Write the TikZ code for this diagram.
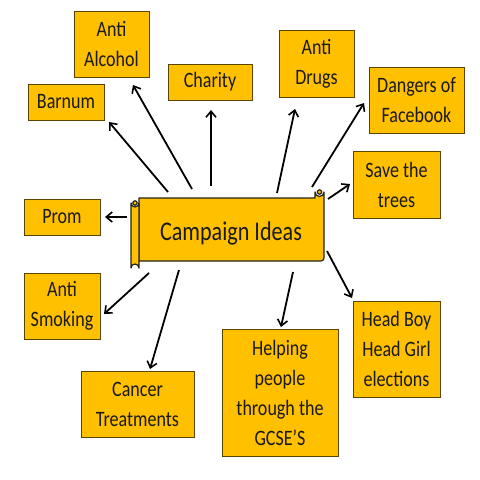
\documentclass[tikz,border=0pt]{standalone}
\usepackage{fontspec}
\setmainfont{Carlito}[FakeStretch=0.82]
\usetikzlibrary{arrows.meta}
\definecolor{gold}{HTML}{FFC000}
\definecolor{edge}{HTML}{5A4500}
\definecolor{ink}{HTML}{1A1A1A}
\begin{document}
\begin{tikzpicture}[x=1pt,y=-1pt,
  idea/.style={draw=edge,line width=1pt,fill=gold,text=ink,align=center,inner sep=0pt,
    font=\fontsize{22}{30}\selectfont},
  link/.style={line width=1.8pt,-{Straight Barb[length=6pt,width=10pt,line width=1.6pt]}},
  scrollline/.style={draw=ink!80!edge,line width=1.2pt,fill=gold,line join=round}]
\useasboundingbox (0,0) rectangle (480,480);
% central scroll
\path[scrollline] (315,198) -- (315,192) arc[start angle=180,end angle=0,radius=4.5] -- (324,258)
  arc[start angle=0,end angle=90,radius=3] -- (139,261) -- (139,198) -- cycle;
\path[scrollline] (319.5,192) circle[radius=2.2];
\path[scrollline] (131,203) arc[start angle=180,end angle=0,radius=4] -- (139,268)
  arc[start angle=0,end angle=-180,radius=4] -- cycle;
\path[scrollline] (135,203) circle[radius=2.2];
\node[text=ink,font=\fontsize{27}{30}\selectfont] (center) at (231,233) {Campaign Ideas};
% idea boxes
\node[idea,minimum width=75pt,minimum height=66pt] (alcohol) at (111.5,44) {Anti\\Alcohol};
\node[idea,minimum width=76pt,minimum height=36pt] (barnum) at (66,102) {Barnum};
\node[idea,minimum width=84pt,minimum height=36pt] (charity) at (210,82) {Charity};
\node[idea,minimum width=75pt,minimum height=67pt] (drugs) at (316.5,63.5) {Anti\\Drugs};
\node[idea,minimum width=95pt,minimum height=66pt] (facebook) at (416.5,100) {Dangers of\\Facebook};
\node[idea,minimum width=87pt,minimum height=67pt] (trees) at (396.5,184.5) {Save the\\trees};
\node[idea,minimum width=76pt,minimum height=36pt] (prom) at (62,217) {Prom};
\node[idea,minimum width=76pt,minimum height=66pt] (smoking) at (62,306) {Anti\\Smoking};
\node[idea,minimum width=113pt,minimum height=66pt] (cancer) at (137.5,404) {Cancer\\Treatments};
\node[idea,minimum width=116pt,minimum height=127pt] (helping) at (280,392.5) {Helping\\people\\through the\\GCSE’S};
\node[idea,minimum width=87pt,minimum height=96pt] (headboy) at (396.5,349) {Head Boy\\Head Girl\\elections};
% connector ends
\coordinate (tBarnum) at (168,192);   \coordinate (hBarnum) at (109,122);
\coordinate (tAlcohol) at (192,189);  \coordinate (hAlcohol) at (133,85);
\coordinate (tCharity) at (211,186);  \coordinate (hCharity) at (211,110);
\coordinate (tDrugs) at (277,193);    \coordinate (hDrugs) at (295,109);
\coordinate (tFace) at (312,187);     \coordinate (hFace) at (364,103);
\coordinate (tTrees) at (328,199);    \coordinate (hTrees) at (350,184);
\coordinate (tProm) at (127,217);     \coordinate (hProm) at (105,217);
\coordinate (tSmoke) at (149,273);    \coordinate (hSmoke) at (104,314);
\coordinate (tCancer) at (179,270);   \coordinate (hCancer) at (150,369);
\coordinate (tHelp) at (293,272);     \coordinate (hHelp) at (281,327);
\coordinate (tHead) at (327,251);     \coordinate (hHead) at (352,298);
\draw[link] (tBarnum) -- (hBarnum);
\draw[link] (tAlcohol) -- (hAlcohol);
\draw[link] (tCharity) -- (hCharity);
\draw[link] (tDrugs) -- (hDrugs);
\draw[link] (tFace) -- (hFace);
\draw[link] (tTrees) -- (hTrees);
\draw[link] (tProm) -- (hProm);
\draw[link] (tSmoke) -- (hSmoke);
\draw[link] (tCancer) -- (hCancer);
\draw[link] (tHelp) -- (hHelp);
\draw[link] (tHead) -- (hHead);
\end{tikzpicture}
\end{document}
